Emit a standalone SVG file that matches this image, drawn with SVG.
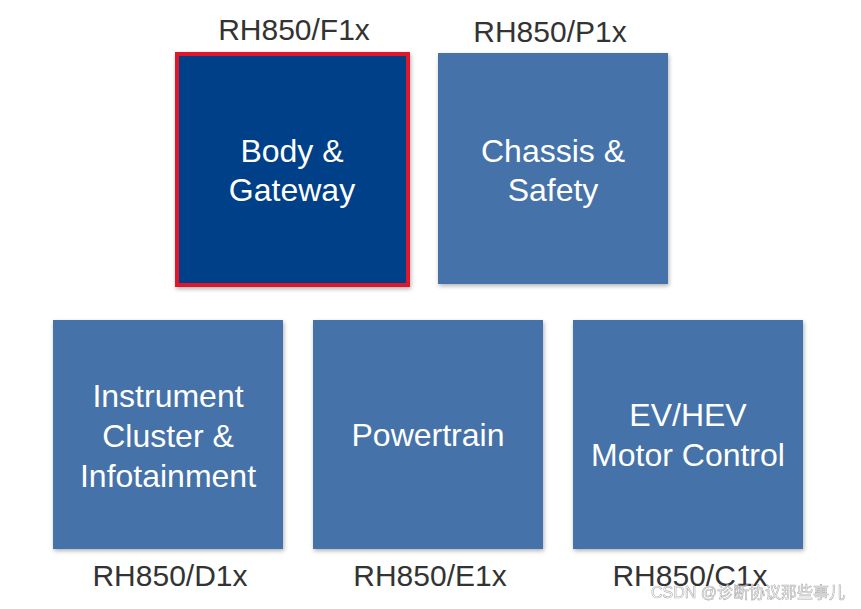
<svg xmlns="http://www.w3.org/2000/svg" width="861" height="609" viewBox="0 0 861 609">
<defs>
<filter id="sh" x="-10%" y="-10%" width="130%" height="130%"><feDropShadow dx="1" dy="2" stdDeviation="2" flood-color="#000" flood-opacity="0.3"/></filter>
<style>
.b{fill:#4472A9;filter:url(#sh)}
.t{font-family:"Liberation Sans",Arial,sans-serif;font-size:32px;fill:#fff;text-anchor:middle}
.l{font-family:"Liberation Sans",Arial,sans-serif;font-size:30px;fill:#333;text-anchor:middle}
</style>
</defs>
<rect width="861" height="609" fill="#fff"/>
<g id="body"><rect x="177" y="54" width="231" height="231" fill="#063F89" stroke="#E0142C" stroke-width="4" filter="url(#sh)"/>
<text class="t" x="292" y="162">Body &amp;</text><text class="t" x="292" y="201">Gateway</text>
<text class="l" x="294" y="40">RH850/F1x</text></g>
<g id="chassis"><rect class="b" x="438" y="53" width="230" height="231"/>
<text class="t" x="553" y="162">Chassis &amp;</text><text class="t" x="553" y="201">Safety</text>
<text class="l" x="550" y="42">RH850/P1x</text></g>
<g id="instrument"><rect class="b" x="53" y="320" width="230" height="229"/>
<text class="t" x="168" y="407">Instrument</text><text class="t" x="168" y="447">Cluster &amp;</text><text class="t" x="168" y="487">Infotainment</text>
<text class="l" x="170" y="586">RH850/D1x</text></g>
<g id="powertrain"><rect class="b" x="313" y="320" width="230" height="229"/>
<text class="t" x="428" y="446">Powertrain</text>
<text class="l" x="430" y="586">RH850/E1x</text></g>
<g id="ev"><rect class="b" x="573" y="320" width="230" height="229"/>
<text class="t" x="688" y="426">EV/HEV</text><text class="t" x="688" y="466">Motor Control</text>
<text class="l" x="690" y="586">RH850/C1x</text></g>
<g id="connectors"/>
<text x="845" y="598" text-anchor="end" font-family="'Liberation Sans','Noto Sans CJK SC',sans-serif" font-size="16" fill="#fff" stroke="#999" stroke-width="0.6" opacity="0.8">CSDN @诊断协议那些事儿</text>
</svg>
